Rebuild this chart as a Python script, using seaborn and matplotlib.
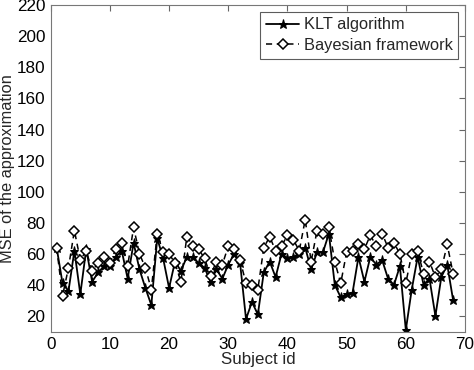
import numpy as np
import pandas as pd
import matplotlib
matplotlib.use("Agg")
import matplotlib.pyplot as plt
import seaborn as sns

# Values
subject_id = list(range(1, 69))
klt_mse = [64, 41, 36, 62, 34, 63, 42, 48, 52, 52, 58, 62, 44, 67, 50, 38, 27, 70, 57, 38,
           55, 49, 58, 58, 54, 51, 42, 50, 44, 53, 60, 54, 18, 29, 21, 48, 55, 45, 60, 57,
           58, 60, 64, 50, 61, 61, 73, 40, 32, 34, 35, 58, 42, 58, 53, 56, 44, 40, 52, 11,
           37, 58, 40, 44, 20, 45, 53, 30]
bayes_mse = [64, 33, 51, 75, 56, 62, 49, 54, 58, 54, 63, 67, 52, 77, 60, 51, 37, 73, 61, 60,
             54, 42, 71, 65, 63, 57, 46, 55, 53, 65, 63, 56, 41, 40, 37, 64, 71, 62, 65, 72,
             69, 62, 82, 55, 75, 73, 77, 55, 41, 61, 62, 66, 63, 72, 65, 73, 64, 67, 60, 41,
             60, 62, 47, 55, 45, 50, 66, 47]
x_ticks = [0, 10, 20, 30, 40, 50, 60, 70]
y_ticks = [20, 40, 60, 80, 100, 120, 140, 160, 180, 200, 220]

df = pd.DataFrame({"Subject id": subject_id, "KLT": klt_mse, "Bayes": bayes_mse})

sns.set_style("white")
plt.rcParams["font.family"] = ["Liberation Sans", "DejaVu Sans"]

fig = plt.figure(figsize=(4.74, 3.70), dpi=100)
ax = fig.add_axes([0.107, 0.104, 0.874, 0.882])

sns.lineplot(data=df, x="Subject id", y="KLT", ax=ax, color="black", lw=1.3,
             marker="*", markersize=6.5, markeredgecolor="black", markerfacecolor="black",
             label="KLT algorithm")
sns.lineplot(data=df, x="Subject id", y="Bayes", ax=ax, color="black", lw=1.1,
             linestyle=(0, (4, 3)), marker="D", markersize=5, markeredgewidth=1.1,
             markeredgecolor="black", markerfacecolor="white",
             label="Bayesian framework")

ax.set_xlim(0, 70)
ax.set_ylim(10, 220)
ax.set_xticks(x_ticks)
ax.set_yticks(y_ticks)
ax.tick_params(direction="in", length=4, labelsize=12.3, top=True, right=True,
               color="#666666", labelcolor="black", pad=4)
for s in ax.spines.values():
    s.set_color("#777777")
    s.set_linewidth(0.8)

ax.set_xlabel("Subject id", fontsize=12.2, labelpad=0)
ax.set_ylabel("MSE of the approximation", fontsize=11.8, labelpad=1)

leg = ax.legend(loc="upper right", fontsize=11.8, frameon=True, fancybox=False,
                handlelength=2.0, handletextpad=0.3, borderpad=0.35, labelspacing=0.35,
                borderaxespad=0.4)
leg.get_frame().set_edgecolor("#333333")
leg.get_frame().set_linewidth(0.8)

fig.savefig("out.png", dpi=100)
